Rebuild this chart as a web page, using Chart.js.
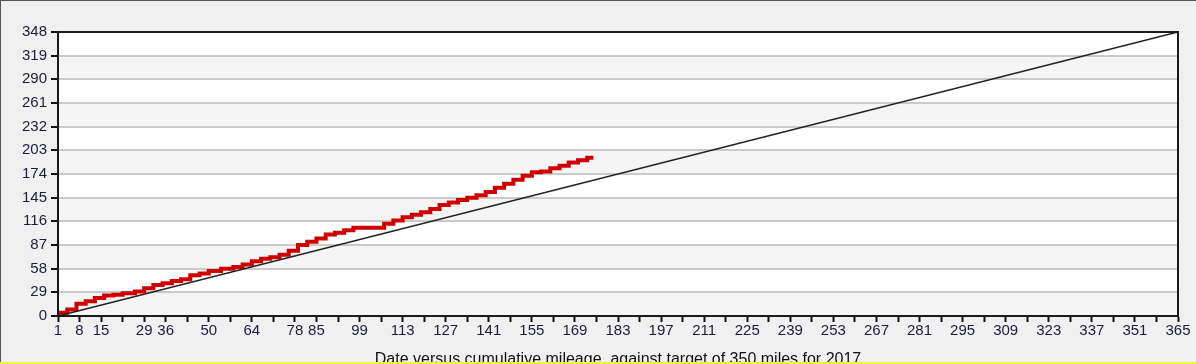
<!DOCTYPE html>
<html>
<head>
<meta charset="utf-8">
<script src="https://cdn.jsdelivr.net/npm/chart.js@4"></script>
<style>
  html, body { margin: 0; padding: 0; background: #f0f0f0; overflow: hidden; }
  #wrap { width: 1196px; height: 364px; }
  canvas { display: block; }
</style>
</head>
<body>
<div id="wrap"><canvas id="mileageChart" width="1196" height="364"></canvas></div>
<script>
// Day of year and cumulative miles
const runDays = [1, 4, 7, 10, 13, 16, 19, 22, 26, 29, 32, 35, 38, 41, 44, 47, 50, 54, 58, 61,
  64, 67, 70, 73, 76, 79, 82, 85, 88, 91, 94, 97, 100, 107, 110, 113, 116, 119, 122, 125,
  128, 131, 134, 137, 140, 143, 146, 149, 152, 155, 158, 161, 164, 167, 170, 173, 175];
const runMiles = [0, 4, 8, 15, 18, 22, 25, 26, 28, 30, 34, 38, 40, 43, 45, 50, 52, 55, 58, 60,
  63, 67, 70, 72, 75, 80, 87, 91, 95, 100, 102, 105, 108, 108, 113, 117, 121, 124, 127, 131,
  136, 139, 142, 145, 148, 152, 157, 162, 167, 172, 176, 177, 181, 184, 188, 191, 194];

// Target line: straight from day 1 to day 365
const targetDays = [1, 365];
const targetMiles = [0, 348];

// Axis ticks
const yTicks = [0, 29, 58, 87, 116, 145, 174, 203, 232, 261, 290, 319, 348];
const xTickDays = [];
for (let d = 1; d <= 365; d += 7) xTickDays.push(d);
const xLabels = [1, 8, 15, 29, 36, 50, 64, 78, 85, 99, 113, 127, 141, 155, 169, 183, 197,
  211, 225, 239, 253, 267, 281, 295, 309, 323, 337, 351, 365];

const axisTitle = 'Date versus cumulative mileage ,against target of 350 miles for 2017';

// alternating bands behind the grid
const bandsPlugin = {
  id: 'bands',
  beforeDraw(chart) {
    const { ctx, chartArea } = chart;
    const y = chart.scales.y;
    ctx.save();
    ctx.fillStyle = '#ffffff';
    ctx.fillRect(chartArea.left, chartArea.top, chartArea.right - chartArea.left, chartArea.bottom - chartArea.top);
    ctx.fillStyle = '#f5f5f5';
    for (let i = 0; i < yTicks.length - 1; i += 2) {
      const top = y.getPixelForValue(yTicks[i + 1]);
      const bot = y.getPixelForValue(yTicks[i]);
      ctx.fillRect(chartArea.left, top, chartArea.right - chartArea.left, bot - top);
    }
    ctx.restore();
  },
  afterDraw(chart) {
    const { ctx, chartArea } = chart;
    ctx.save();
    // plot frame
    ctx.strokeStyle = '#1a1a1a';
    ctx.lineWidth = 2;
    ctx.strokeRect(chartArea.left, chartArea.top, chartArea.right - chartArea.left, chartArea.bottom - chartArea.top);
    // window edges
    ctx.fillStyle = '#555';
    ctx.fillRect(0, 0, 1196, 1);
    ctx.fillRect(0, 0, 1, 364);
    ctx.fillStyle = '#f5f23a';
    ctx.fillRect(0, 362, 1196, 2);
    ctx.restore();
  }
};

const ctx = document.getElementById('mileageChart').getContext('2d');
const mileageChart = new Chart(ctx, {
  type: 'line',
  data: {
    datasets: [{
      label: 'Target',
      data: targetDays.map((d, i) => ({ x: d, y: targetMiles[i] })),
      borderColor: '#222222',
      borderWidth: 1.6,
      pointRadius: 0
    }, {
      label: 'Miles',
      data: runDays.map((d, i) => ({ x: d, y: runMiles[i] })),
      borderColor: '#d00000',
      borderWidth: 4,
      stepped: 'after',
      pointRadius: 0
    }]
  },
  options: {
    responsive: false,
    animation: false,
    layout: { padding: { left: 0, top: 32, right: 18, bottom: 0 } },
    plugins: { legend: { display: false }, tooltip: { enabled: false } },
    scales: {
      x: {
        type: 'linear',
        min: 1,
        max: 365,
        afterBuildTicks: (scale) => { scale.ticks = xTickDays.map(v => ({ value: v })); },
        afterFit: (scale) => { scale.height = 48; },
        grid: { drawOnChartArea: false, drawTicks: true, tickLength: 6, tickColor: '#111', tickWidth: 2 },
        border: { display: true, color: '#1a1a1a', width: 2 },
        ticks: {
          autoSkip: false,
          maxRotation: 0,
          padding: 0,
          color: '#1c1c3c',
          font: { family: 'Liberation Sans', size: 15 },
          callback: (v) => xLabels.includes(v) ? String(v) : ''
        },
        title: {
          display: true,
          text: axisTitle,
          color: '#111',
          font: { family: 'Liberation Sans', size: 16 },
          padding: { top: 0, bottom: -5 }
        }
      },
      y: {
        min: 0,
        max: 348,
        afterBuildTicks: (scale) => { scale.ticks = yTicks.map(v => ({ value: v })); },
        afterFit: (scale) => { scale.width = 58; },
        grid: { color: '#cacaca', lineWidth: 2, tickLength: 7, tickColor: '#111', tickWidth: 2 },
        border: { display: true, color: '#1a1a1a', width: 2 },
        ticks: {
          padding: 4,
          color: '#1c1c3c',
          font: { family: 'Liberation Sans', size: 15 }
        }
      }
    }
  },
  plugins: [bandsPlugin]
});
</script>
</body>
</html>
